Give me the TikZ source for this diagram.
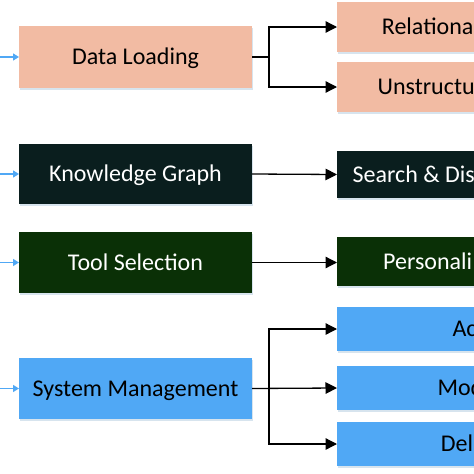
\documentclass[tikz,border=0pt]{standalone}
\usepackage{fontspec}
\setmainfont{Carlito}
\usetikzlibrary{arrows.meta,shadows}
\definecolor{salmon}{RGB}{242,187,163}
\definecolor{darkteal}{RGB}{10,30,30}
\definecolor{darkgreen}{RGB}{10,48,6}
\definecolor{skyblue}{RGB}{80,168,245}
\definecolor{glow}{RGB}{215,228,238}
\tikzset{
  x=1pt, y=-1pt,
  box/.style={rectangle, inner sep=0pt, outer sep=0pt,
    general shadow={fill=glow, shadow xshift=1pt, shadow yshift=-1.5pt}},
  lbox/.style={box, minimum width=233pt},
  rbox/.style={box, minimum width=220pt},
  txt/.style={font=\fontsize{24}{28}\selectfont, text height=15.5pt, text depth=0pt, inner sep=0pt},
  conn/.style={line width=1.3pt, -{Triangle[length=11.5pt,width=11.5pt]}},
  inarrow/.style={draw=skyblue, line width=1.3pt, -{Triangle[length=6pt,width=7pt]}},
}
\begin{document}
\begin{tikzpicture}
\useasboundingbox (0,0) rectangle (474,474);
\clip (0,0) rectangle (474,474);
\fill[white] (0,0) rectangle (474,474);

% left boxes
\node[lbox, fill=salmon, minimum height=62pt] (dl) at (135.5,57) {};
\node[txt, text=black] (dlt) at (dl.center) {Data Loading};
\node[lbox, fill=darkteal, minimum height=60pt] (kg) at (135.5,174) {};
\node[txt, text=white] (kgt) at (kg.center) {Knowledge Graph};
\node[lbox, fill=darkgreen, minimum height=61pt] (ts) at (135.5,262.5) {};
\node[txt, text=white] (tst) at (ts.center) {Tool Selection};
\node[lbox, fill=skyblue, minimum height=61pt] (sm) at (135.5,388.5) {};
\node[txt, text=black] (smt) at (sm.center) {System Management};

% right boxes (cut off by the picture's right edge)
\node[rbox, fill=salmon, minimum height=50pt, anchor=west] (rel) at (337,27) {};
\node[txt, anchor=west] (relt) at (381.7,27) {Relationa};
\node[rbox, fill=salmon, minimum height=50pt, anchor=west] (uns) at (337,87) {};
\node[txt, anchor=west] (unst) at (377.5,87) {Unstructu};
\node[rbox, fill=darkteal, minimum height=47pt, anchor=west] (sd) at (337,174.5) {};
\node[txt, anchor=west, text=white] (sdt) at (352.5,174.5) {Search \& Dis};
\node[rbox, fill=darkgreen, minimum height=49pt, anchor=west] (pe) at (337,261.5) {};
\node[txt, anchor=west, text=white] (pet) at (383,261.5) {Personali};
\node[rbox, fill=skyblue, minimum height=44pt, anchor=west] (ad) at (337,329) {};
\node[txt, anchor=west] (adt) at (452.3,329) {Ac};
\node[rbox, fill=skyblue, minimum height=44pt, anchor=west] (mo) at (337,388) {};
\node[txt, anchor=west] (mot) at (437.3,388) {Mod};
\node[rbox, fill=skyblue, minimum height=44pt, anchor=west] (de) at (337,444) {};
\node[txt, anchor=west] (det) at (440.7,444) {Del};

% incoming blue arrows
\coordinate (i1) at (0,57);
\coordinate (i2) at (0,174);
\coordinate (i3) at (0,262.5);
\coordinate (i4) at (0,388.5);
\draw[inarrow] (i1) -- (dl.west);
\draw[inarrow] (i2) -- (kg.west);
\draw[inarrow] (i3) -- (ts.west);
\draw[inarrow] (i4) -- (sm.west);

% connectors
\draw[conn] (dl.east) -- ++(17,0) |- (rel.west);
\draw[conn] (dl.east) -- ++(17,0) |- (uns.west);
\draw[conn] (kg.east) -- (sd.west);
\draw[conn] (ts.east) -- (ts.east -| pe.west);
\draw[conn] (sm.east) -- ++(17,0) |- (ad.west);
\draw[conn] (sm.east) -- (mo.west);
\draw[conn] (sm.east) -- ++(17,0) |- (de.west);
\end{tikzpicture}
\end{document}
